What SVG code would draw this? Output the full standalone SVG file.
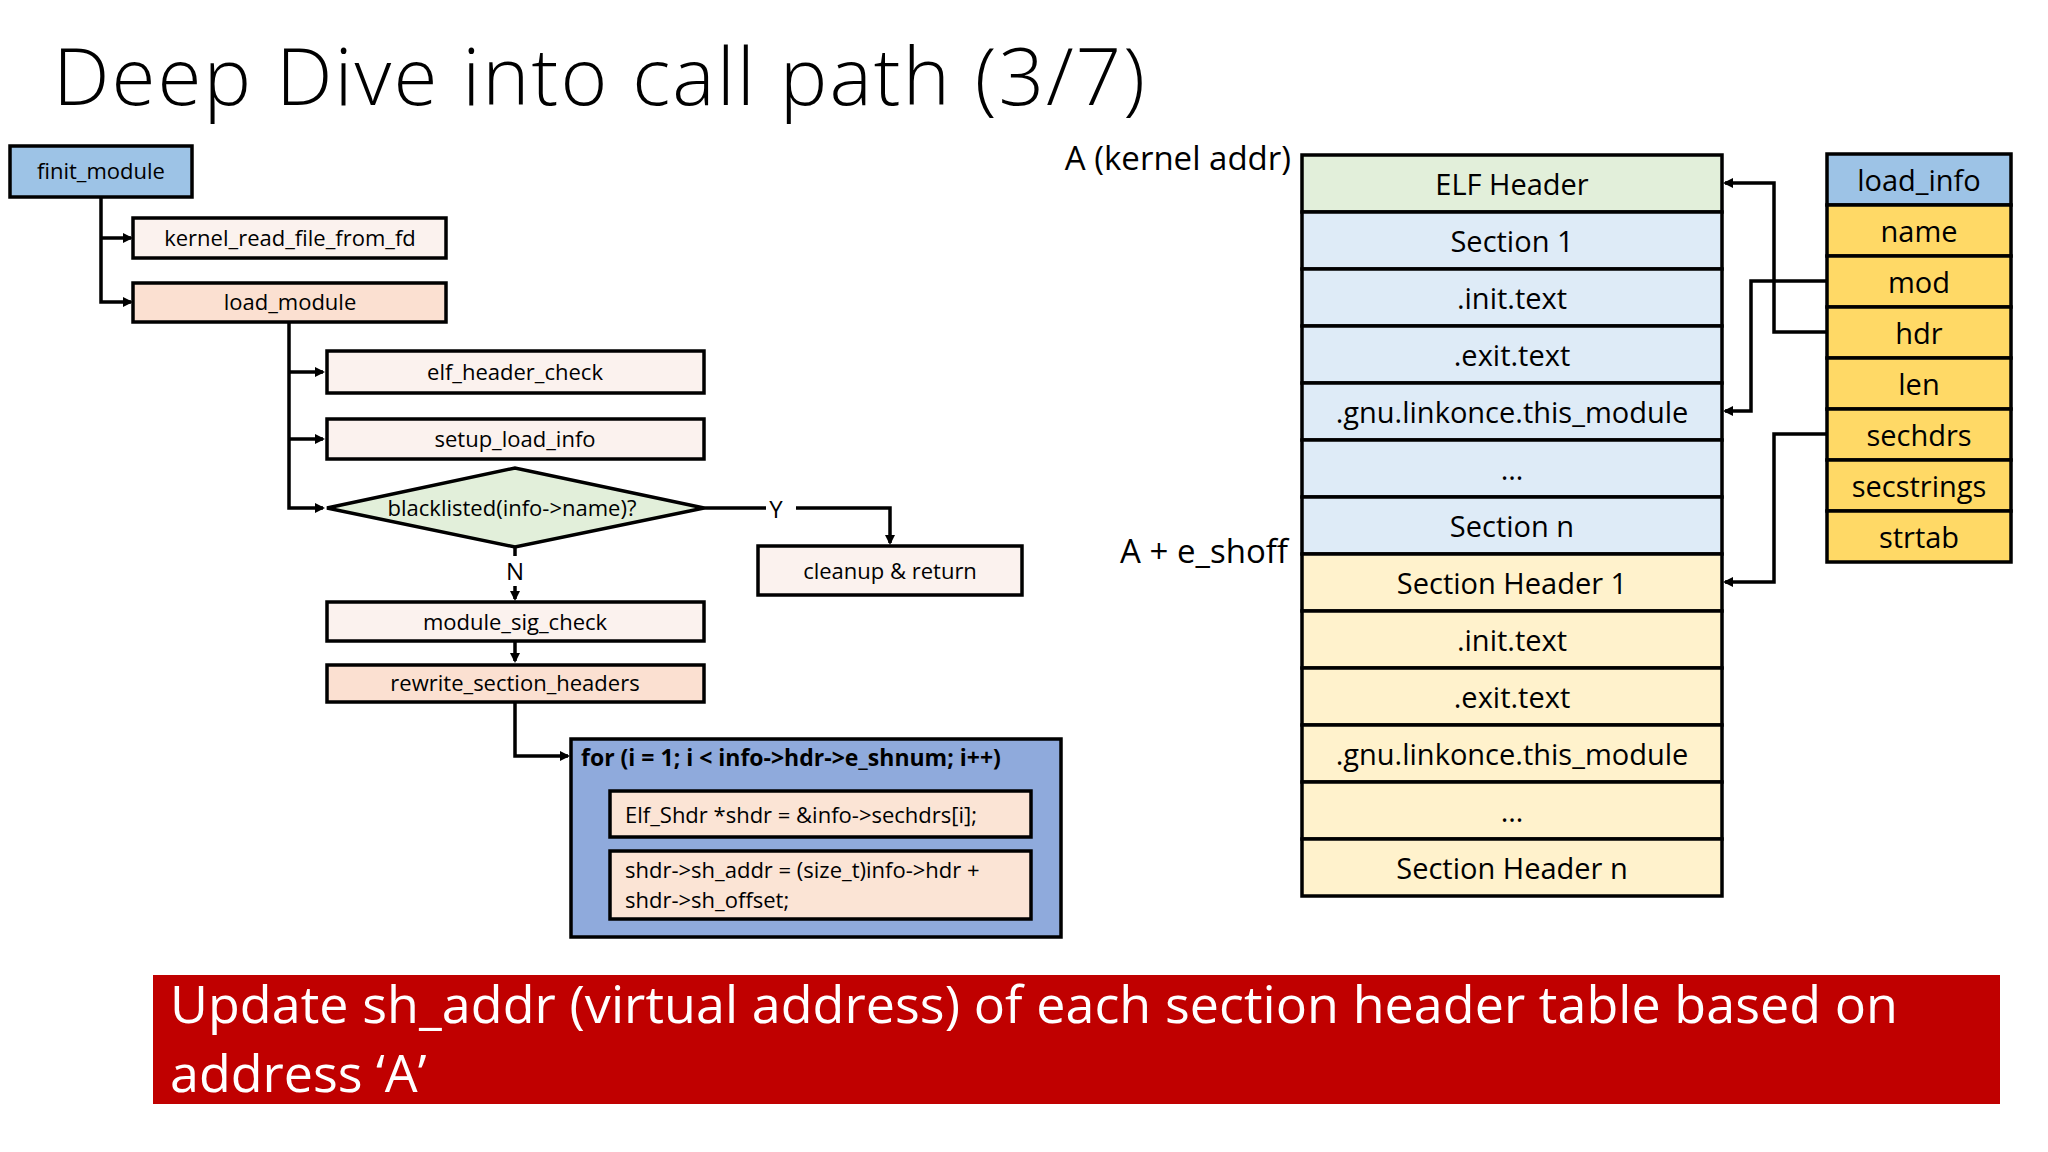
<svg xmlns="http://www.w3.org/2000/svg" width="2048" height="1152" viewBox="0 0 2048 1152">
<style>
text{font-family:"Open Sans","Noto Sans",sans-serif;fill:#000}
.b{stroke:#000;stroke-width:3.5}
.t{font-size:22px;text-anchor:middle}
.r{font-size:29px;text-anchor:middle}
.c{stroke:#000;stroke-width:3.5;fill:none}
.blue{fill:#9dc3e6}.pale{fill:#fbf2ee}.sal{fill:#fbe0d1}.grn{fill:#e2efda}.sec{fill:#deebf7}.yel{fill:#fff2cc}.gold{fill:#ffd966}
</style>
<defs><marker id="a" markerWidth="10" markerHeight="10" refX="8" refY="5" orient="auto" markerUnits="userSpaceOnUse"><path d="M0,0 L10,5 L0,10 z" fill="#000"/></marker></defs>
<rect width="2048" height="1152" fill="#fff"/>
<text x="53" y="105" font-size="80" textLength="1092" style="font-family:'Open Sans','Noto Sans',sans-serif;font-weight:300">Deep Dive into call path (3/7)</text>
<g id="connectors">
<path class="c" d="M101,197 V302 H131" marker-end="url(#a)"/>
<path class="c" d="M101,238 H131" marker-end="url(#a)"/>
<path class="c" d="M289,322 V508 H323" marker-end="url(#a)"/>
<path class="c" d="M289,372 H323" marker-end="url(#a)"/>
<path class="c" d="M289,439 H323" marker-end="url(#a)"/>
<path class="c" d="M704,508 H766"/>
<path class="c" d="M796,508 H890 V543" marker-end="url(#a)"/>
<path class="c" d="M515,547 V556"/>
<path class="c" d="M515,586 V599" marker-end="url(#a)"/>
<path class="c" d="M515,641 V661" marker-end="url(#a)"/>
<path class="c" d="M515,702 V756 H568" marker-end="url(#a)"/>
<path class="c" d="M1827,332 H1774 V183 H1725" marker-end="url(#a)"/>
<path class="c" d="M1827,281 H1751 V411 H1725" marker-end="url(#a)"/>
<path class="c" d="M1827,434 H1774 V582 H1725" marker-end="url(#a)"/>
<text x="776" y="518" font-size="24" text-anchor="middle">Y</text>
<text x="515" y="580" font-size="24" text-anchor="middle">N</text>
</g>
<g id="finit_module"><rect class="b blue" x="10" y="146" width="182" height="51"/><text class="t" x="101" y="179">finit_module</text></g>
<g id="kernel_read"><rect class="b pale" x="133" y="218" width="313" height="40"/><text class="t" x="290" y="246">kernel_read_file_from_fd</text></g>
<g id="load_module"><rect class="b sal" x="133" y="283" width="313" height="39"/><text class="t" x="290" y="310">load_module</text></g>
<g id="elf_header_check"><rect class="b pale" x="327" y="351" width="377" height="42"/><text class="t" x="515" y="380">elf_header_check</text></g>
<g id="setup_load_info"><rect class="b pale" x="327" y="419" width="377" height="40"/><text class="t" x="515" y="447">setup_load_info</text></g>
<g id="blacklisted"><path class="b grn" d="M327,508 L515,468 L704,508 L515,547 Z"/><text class="t" x="512" y="516">blacklisted(info-&gt;name)?</text></g>
<g id="cleanup"><rect class="b pale" x="758" y="546" width="264" height="49"/><text class="t" x="890" y="579">cleanup &amp; return</text></g>
<g id="module_sig_check"><rect class="b pale" x="327" y="602" width="377" height="39"/><text class="t" x="515" y="630">module_sig_check</text></g>
<g id="rewrite"><rect class="b sal" x="327" y="665" width="377" height="37"/><text class="t" x="515" y="691">rewrite_section_headers</text></g>
<g id="for_loop"><rect class="b" fill="#8faadc" x="571" y="739" width="490" height="198"/>
<text x="581" y="766" font-size="23" font-weight="bold">for (i = 1; i &lt; info-&gt;hdr-&gt;e_shnum; i++)</text>
<rect class="b" fill="#fbe4d5" x="610" y="791" width="421" height="46"/><text x="625" y="823" font-size="22">Elf_Shdr *shdr = &amp;info-&gt;sechdrs[i];</text>
<rect class="b" fill="#fbe4d5" x="610" y="851" width="421" height="68"/><text x="625" y="878" font-size="22">shdr-&gt;sh_addr = (size_t)info-&gt;hdr +</text><text x="625" y="908" font-size="22">shdr-&gt;sh_offset;</text></g>
<text x="1291" y="170" font-size="33" text-anchor="end">A (kernel addr)</text>
<text x="1288" y="563" font-size="33" text-anchor="end">A + e_shoff</text>
<g id="elf_layout">
<rect class="b grn" x="1302" y="155" width="420" height="57"/><text class="r" x="1512" y="195">ELF Header</text>
<rect class="b sec" x="1302" y="212" width="420" height="57"/><text class="r" x="1512" y="252">Section 1</text>
<rect class="b sec" x="1302" y="269" width="420" height="57"/><text class="r" x="1512" y="309">.init.text</text>
<rect class="b sec" x="1302" y="326" width="420" height="57"/><text class="r" x="1512" y="366">.exit.text</text>
<rect class="b sec" x="1302" y="383" width="420" height="57"/><text class="r" x="1512" y="423">.gnu.linkonce.this_module</text>
<rect class="b sec" x="1302" y="440" width="420" height="57"/><text class="r" x="1512" y="480">…</text>
<rect class="b sec" x="1302" y="497" width="420" height="57"/><text class="r" x="1512" y="537">Section n</text>
<rect class="b yel" x="1302" y="554" width="420" height="57"/><text class="r" x="1512" y="594">Section Header 1</text>
<rect class="b yel" x="1302" y="611" width="420" height="57"/><text class="r" x="1512" y="651">.init.text</text>
<rect class="b yel" x="1302" y="668" width="420" height="57"/><text class="r" x="1512" y="708">.exit.text</text>
<rect class="b yel" x="1302" y="725" width="420" height="57"/><text class="r" x="1512" y="765">.gnu.linkonce.this_module</text>
<rect class="b yel" x="1302" y="782" width="420" height="57"/><text class="r" x="1512" y="822">…</text>
<rect class="b yel" x="1302" y="839" width="420" height="57"/><text class="r" x="1512" y="879">Section Header n</text>
</g>
<g id="load_info">
<rect class="b blue" x="1827" y="154" width="184" height="51"/><text class="r" x="1919" y="191">load_info</text>
<rect class="b gold" x="1827" y="205" width="184" height="51"/><text class="r" x="1919" y="242">name</text>
<rect class="b gold" x="1827" y="256" width="184" height="51"/><text class="r" x="1919" y="293">mod</text>
<rect class="b gold" x="1827" y="307" width="184" height="51"/><text class="r" x="1919" y="344">hdr</text>
<rect class="b gold" x="1827" y="358" width="184" height="51"/><text class="r" x="1919" y="395">len</text>
<rect class="b gold" x="1827" y="409" width="184" height="51"/><text class="r" x="1919" y="446">sechdrs</text>
<rect class="b gold" x="1827" y="460" width="184" height="51"/><text class="r" x="1919" y="497">secstrings</text>
<rect class="b gold" x="1827" y="511" width="184" height="51"/><text class="r" x="1919" y="548">strtab</text>
</g>
<g id="banner"><rect x="153" y="975" width="1847" height="129" fill="#c00000"/>
<text x="170" y="1023" font-size="52" textLength="1728" style="fill:#fff">Update sh_addr (virtual address) of each section header table based on</text>
<text x="170" y="1092" font-size="52" style="fill:#fff">address ‘A’</text></g>
</svg>
